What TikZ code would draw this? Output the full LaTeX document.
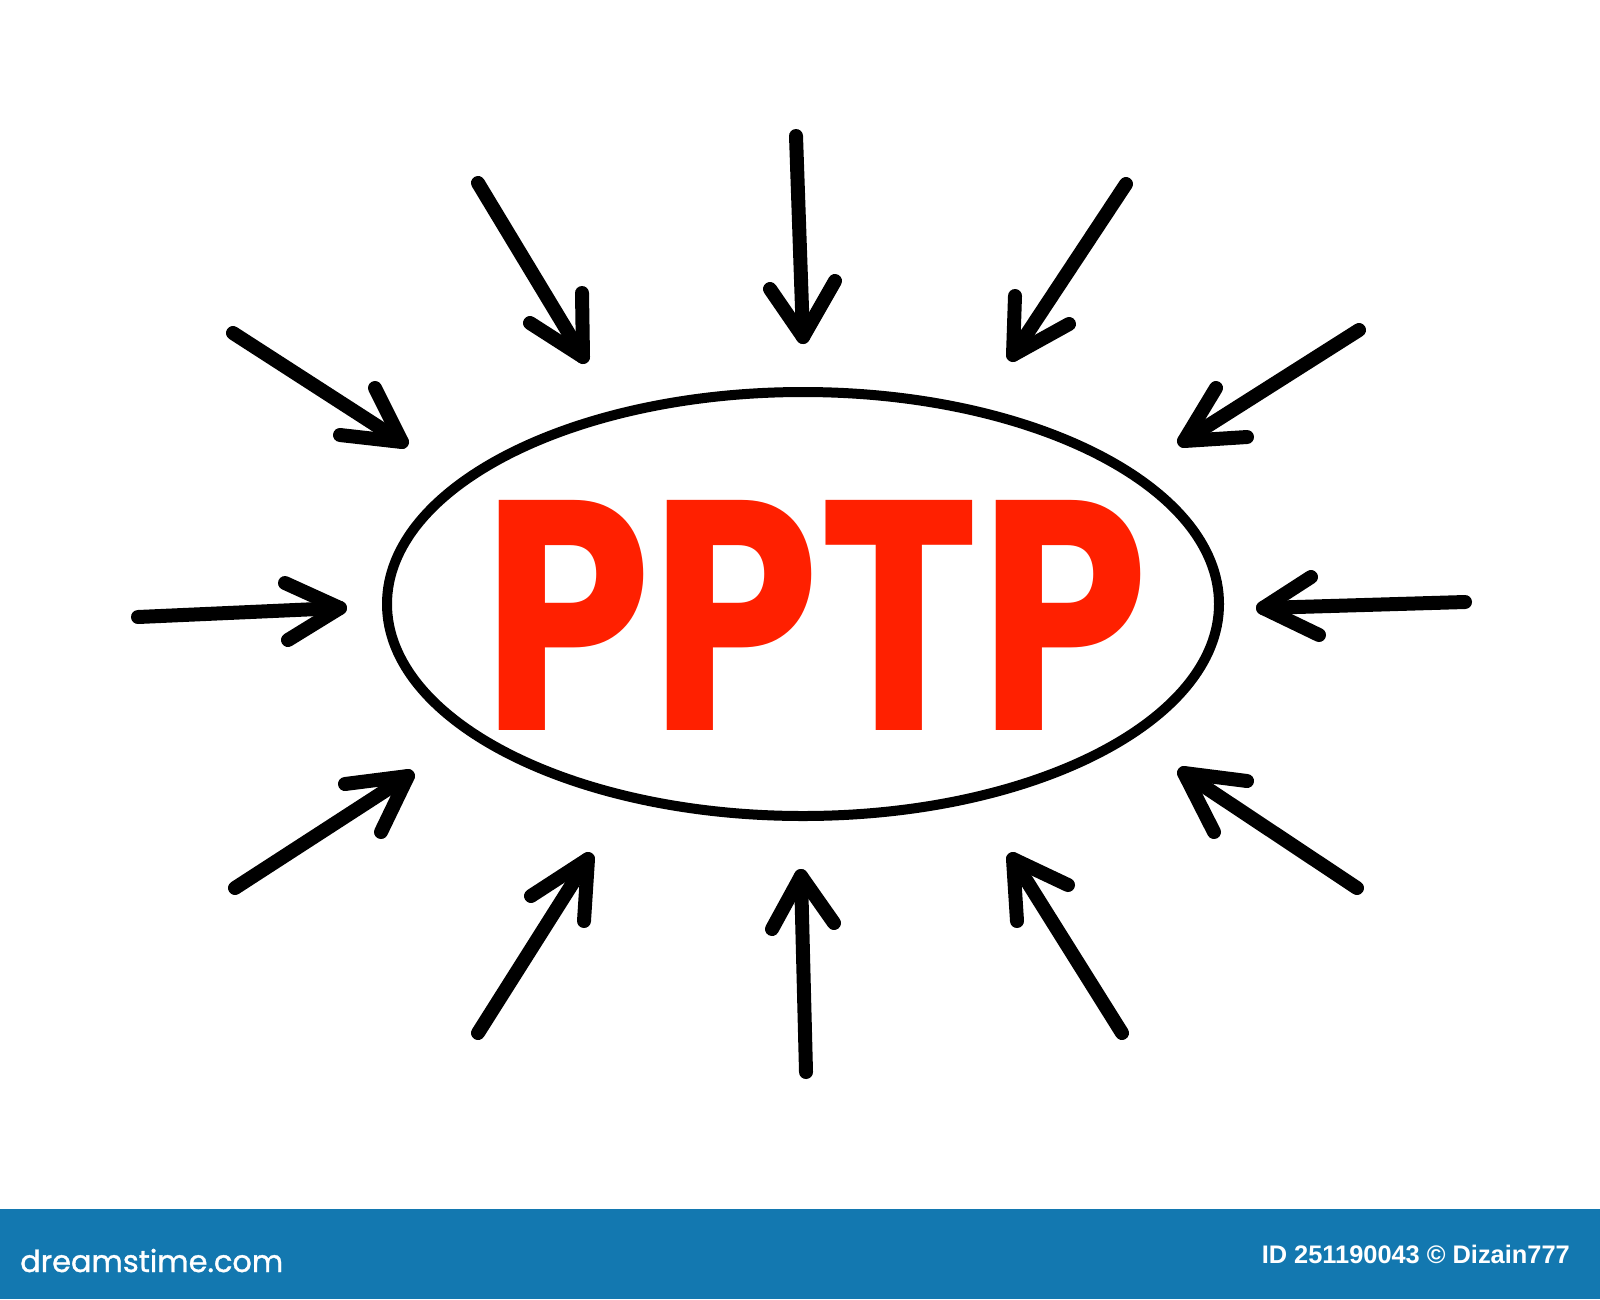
\documentclass[tikz,border=0pt]{standalone}
\usepackage{fontspec}
\usepackage{graphicx}
\usetikzlibrary{shapes.geometric}
\setmainfont{Liberation Sans}
\newfontfamily\titlefont{Poppins}
\newfontfamily\logofont{Poppins}[FakeBold=1.2]
\newfontfamily\idfont{Liberation Sans}
\definecolor{pptpred}{RGB}{255,32,0}
\definecolor{footblue}{RGB}{19,120,176}
\tikzset{
  arrowline/.style={line width=14pt, line cap=round, line join=round, black},
  ringshape/.style={draw, ellipse, line width=10pt, minimum width=832pt, minimum height=424pt, inner sep=0pt}
}
\begin{document}
\begin{tikzpicture}[x=1pt,y=-1pt]
\useasboundingbox (0,0) rectangle (1600,1299);
\fill[white] (0,0) rectangle (1600,1299);
% footer
\fill[footblue] (0,1209) rectangle (1600,1299);
\node[anchor=base west, inner sep=0pt, text=white] (logo) at (20,1272)
  {\resizebox{263pt}{!}{\logofont dreamstime.com}};
\node[anchor=base east, inner sep=0pt, text=white] (idtext) at (1570,1263)
  {\resizebox{308pt}{!}{\idfont\bfseries ID 251190043 © Dizain777}};
% ellipse
\node[ringshape] (ring) at (803,604) {};
% title
\node[inner sep=0pt, text=pptpred] (title) at (815,615)
  {\resizebox{665pt}{230pt}{\titlefont\bfseries PPTP}};
% arrows: tail, head, barb a, barb b
\foreach \n/\tx/\ty/\hx/\hy/\ax/\ay/\bx/\by in {
  a1/796/136/803/337/770/289/835/281,
  a2/478/183/583/357/530/323/582/293,
  a3/1126/184/1013/355/1015/296/1069/324,
  a4/233/333/402/442/340/435/375/388,
  a5/1359/330/1184/441/1216/388/1247/437,
  a6/138/617/340/608/285/583/288/640,
  a7/1465/602/1263/608/1311/577/1319/635,
  a8/235/888/408/776/345/784/381/832,
  a9/1357/888/1184/773/1214/832/1247/781,
  a10/478/1033/588/859/531/896/584/921,
  a11/806/1072/801/876/772/929/834/923,
  a12/1122/1033/1013/859/1017/921/1068/885}
{
  \coordinate (\n-t) at (\tx,\ty);
  \coordinate (\n-h) at (\hx,\hy);
  \coordinate (\n-a) at (\ax,\ay);
  \coordinate (\n-b) at (\bx,\by);
  \draw[arrowline] (\n-t) -- (\n-h);
  \draw[arrowline] (\n-a) -- (\n-h) -- (\n-b);
}
\end{tikzpicture}
\end{document}
